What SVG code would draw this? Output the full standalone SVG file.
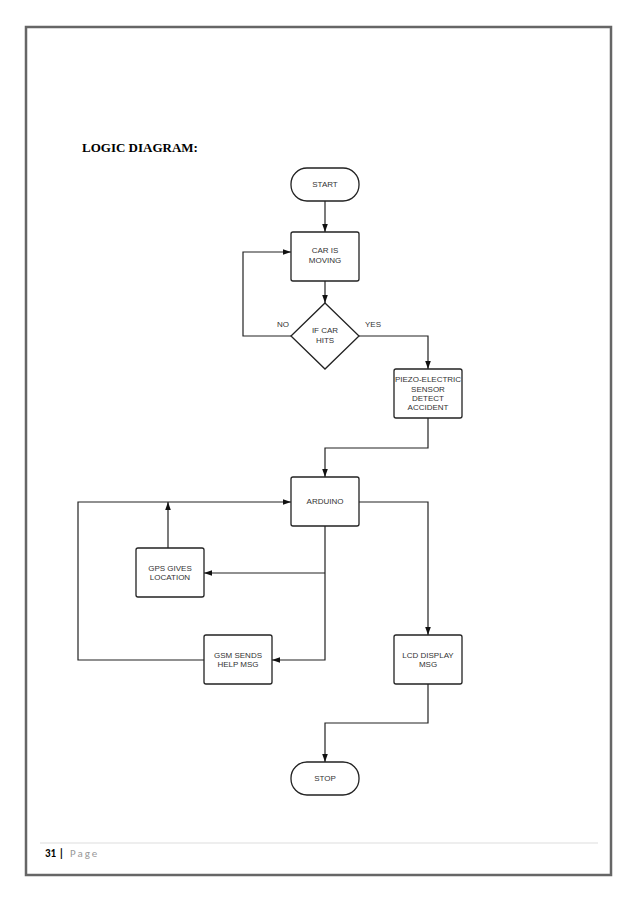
<svg xmlns="http://www.w3.org/2000/svg" width="638" height="902" viewBox="0 0 638 902">
<style>
.n{fill:#fff;stroke:#222;stroke-width:1.3}
.t{font-family:"Liberation Sans",Arial,sans-serif;font-size:8px;fill:#333;text-anchor:middle}
.c{fill:none;stroke:#222;stroke-width:1.2}
</style>
<defs><marker id="a" viewBox="0 0 10 10" refX="10" refY="5" markerWidth="7" markerHeight="7" orient="auto"><path d="M0,1.5L10,5L0,8.5z" fill="#111"/></marker></defs>
<rect width="638" height="902" fill="#fff"/>
<rect x="26" y="27" width="585" height="848" fill="none" stroke="#666" stroke-width="2.5"/>
<line x1="40" y1="843" x2="598" y2="843" stroke="#ddd" stroke-width="1"/>
<text x="45" y="857" font-family="Calibri,'Liberation Sans',sans-serif" font-size="11" font-weight="bold" fill="#000">31 |</text>
<text x="70" y="857" font-family="Calibri,'Liberation Sans',sans-serif" font-size="11" fill="#999" letter-spacing="2">Page</text>
<text x="82" y="152" font-family="'Liberation Serif','Times New Roman',serif" font-size="13" font-weight="bold" fill="#000">LOGIC DIAGRAM:</text>
<g id="connectors">
<path class="c" marker-end="url(#a)" d="M325,201V232"/>
<path class="c" marker-end="url(#a)" d="M325,281V303"/>
<path class="c" marker-end="url(#a)" d="M291,336H243V252H291"/>
<path class="c" marker-end="url(#a)" d="M359,336H428V369"/>
<path class="c" marker-end="url(#a)" d="M428,418V448H325V477"/>
<path class="c" marker-end="url(#a)" d="M359,502H428V635"/>
<path class="c" marker-end="url(#a)" d="M325,526V660H272"/>
<path class="c" marker-end="url(#a)" d="M325,573H204"/>
<path class="c" marker-end="url(#a)" d="M168,548V502"/>
<path class="c" marker-end="url(#a)" d="M204,660H78V502H291"/>
<path class="c" marker-end="url(#a)" d="M428,684V723H325V762"/>
<text class="t" x="283" y="327">NO</text>
<text class="t" x="373" y="327">YES</text>
</g>
<g id="start"><rect class="n" x="291" y="168" width="68" height="33" rx="16"/><text class="t" x="325" y="187">START</text></g>
<g id="moving"><rect class="n" x="291" y="232" width="68" height="49" rx="2"/><text class="t" x="325" y="253">CAR IS</text><text class="t" x="325" y="263">MOVING</text></g>
<g id="hits"><path class="n" d="M325,303L359,336L325,369L291,336z"/><text class="t" x="325" y="333">IF CAR</text><text class="t" x="325" y="343">HITS</text></g>
<g id="piezo"><rect class="n" x="394" y="369" width="68" height="49" rx="2"/><text class="t" x="428" y="382">PIEZO-ELECTRIC</text><text class="t" x="428" y="392">SENSOR</text><text class="t" x="428" y="401">DETECT</text><text class="t" x="428" y="410">ACCIDENT</text></g>
<g id="arduino"><rect class="n" x="291" y="477" width="68" height="49" rx="2"/><text class="t" x="325" y="504">ARDUINO</text></g>
<g id="gps"><rect class="n" x="136" y="548" width="68" height="49" rx="2"/><text class="t" x="170" y="571">GPS GIVES</text><text class="t" x="170" y="580">LOCATION</text></g>
<g id="gsm"><rect class="n" x="204" y="635" width="68" height="49" rx="2"/><text class="t" x="238" y="658">GSM SENDS</text><text class="t" x="238" y="667">HELP MSG</text></g>
<g id="lcd"><rect class="n" x="394" y="635" width="68" height="49" rx="2"/><text class="t" x="428" y="658">LCD DISPLAY</text><text class="t" x="428" y="667">MSG</text></g>
<g id="stop"><rect class="n" x="291" y="762" width="68" height="33" rx="16"/><text class="t" x="325" y="781">STOP</text></g>
</svg>
